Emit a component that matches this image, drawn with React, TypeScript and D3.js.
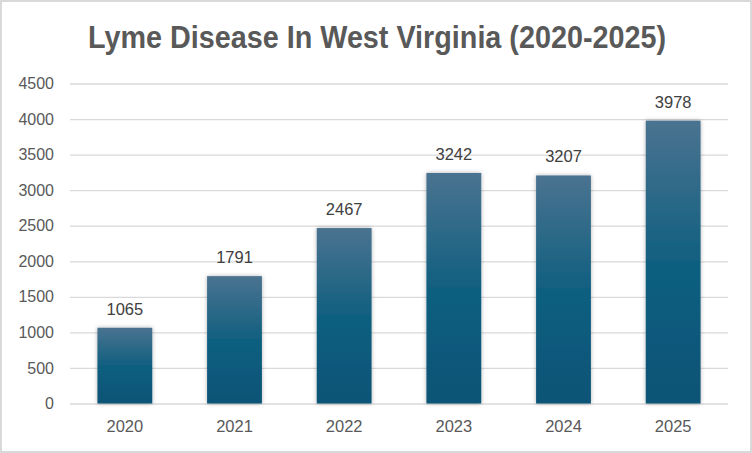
import React, {useEffect, useRef} from 'react';
import * as d3 from 'd3';

const years = ['2020', '2021', '2022', '2023', '2024', '2025'];
const cases = [1065, 1791, 2467, 3242, 3207, 3978];
const yTicks = [0, 500, 1000, 1500, 2000, 2500, 3000, 3500, 4000, 4500];

export default function App() {
    const svgRef = useRef<SVGSVGElement>(null);

    useEffect(() => {
        document.body.style.margin = '0';
        const W = 752, H = 453;
        const margin = {top: 83.5, right: 24, bottom: 49.5, left: 70};
        const width = W - margin.left - margin.right;
        const height = H - margin.top - margin.bottom;

        const root = d3.select(svgRef.current);
        root.selectAll('*').remove();
        root.attr('width', W).attr('height', H);

        const defs = root.append('defs');
        const grad = defs.append('linearGradient')
            .attr('id', 'barGrad')
            .attr('x1', 0).attr('y1', 0).attr('x2', 0).attr('y2', 1);
        grad.append('stop').attr('offset', '0%').attr('stop-color', '#4a7390');
        grad.append('stop').attr('offset', '50%').attr('stop-color', '#115f80');
        grad.append('stop').attr('offset', '100%').attr('stop-color', '#0c5476');

        const filter = defs.append('filter').attr('id', 'shadow')
            .attr('x', '-20%').attr('y', '-20%').attr('width', '140%').attr('height', '140%');
        filter.append('feDropShadow')
            .attr('dx', 0).attr('dy', 0).attr('stdDeviation', 2)
            .attr('flood-color', '#000').attr('flood-opacity', 0.3);

        root.append('rect')
            .attr('x', 1).attr('y', 1).attr('width', W - 2).attr('height', H - 2)
            .attr('fill', '#fff').attr('stroke', '#d9d9d9').attr('stroke-width', 2);

        // condensed, semi-bold title
        root.append('text')
            .attr('x', 88)
            .attr('y', 48)
            .attr('textLength', 578)
            .attr('lengthAdjust', 'spacingAndGlyphs')
            .attr('font-family', '"Liberation Sans Narrow", "Liberation Sans", sans-serif')
            .attr('font-size', '31px')
            .attr('font-weight', 'bold')
            .attr('fill', '#595959')
            .text('Lyme Disease In West Virginia (2020-2025)');

        const svg = root.append('g')
            .attr('transform', `translate(${margin.left},${margin.top})`);

        const x = d3.scaleBand().domain(years).range([0, width]).paddingInner(0.5).paddingOuter(0.25);
        const y = d3.scaleLinear().domain([0, 4500]).range([height, 0]);

        svg.append('g')
            .call(d3.axisLeft(y).tickValues(yTicks).tickSize(-width).tickFormat(() => ''))
            .call(g => g.select('.domain').remove())
            .selectAll('line')
            .attr('stroke', '#d9d9d9')
            .attr('stroke-width', 1.3);

        svg.append('g')
            .call(d3.axisLeft(y).tickValues(yTicks).tickSize(0).tickPadding(16).tickFormat(d3.format('d')))
            .call(g => g.select('.domain').remove())
            .selectAll('text')
            .attr('font-family', '"Liberation Sans", Arial, sans-serif')
            .attr('font-size', '16px')
            .attr('fill', '#595959');

        svg.append('g')
            .attr('transform', `translate(0,${height})`)
            .call(d3.axisBottom(x).tickSize(0).tickPadding(17))
            .call(g => g.select('.domain').remove())
            .selectAll('text')
            .attr('font-family', '"Liberation Sans", Arial, sans-serif')
            .attr('font-size', '16.5px')
            .attr('fill', '#595959');

        const data = years.map((yr, i) => ({year: yr, value: cases[i]}));

        svg.selectAll('.bar')
            .data(data)
            .enter()
            .append('rect')
            .attr('class', 'bar')
            .attr('x', d => x(d.year)!)
            .attr('y', d => y(d.value))
            .attr('width', x.bandwidth())
            .attr('height', d => height - y(d.value))
            .attr('fill', 'url(#barGrad)')
            .attr('filter', 'url(#shadow)');

        svg.selectAll('.lbl')
            .data(data)
            .enter()
            .append('text')
            .attr('class', 'lbl')
            .attr('x', d => x(d.year)! + x.bandwidth() / 2)
            .attr('y', d => y(d.value) - 13)
            .attr('text-anchor', 'middle')
            .attr('font-family', '"Liberation Sans", Arial, sans-serif')
            .attr('font-size', '16.5px')
            .attr('fill', '#404040')
            .text(d => d.value);
    }, []);

    return <svg ref={svgRef} style={{display: 'block'}}></svg>;
}
